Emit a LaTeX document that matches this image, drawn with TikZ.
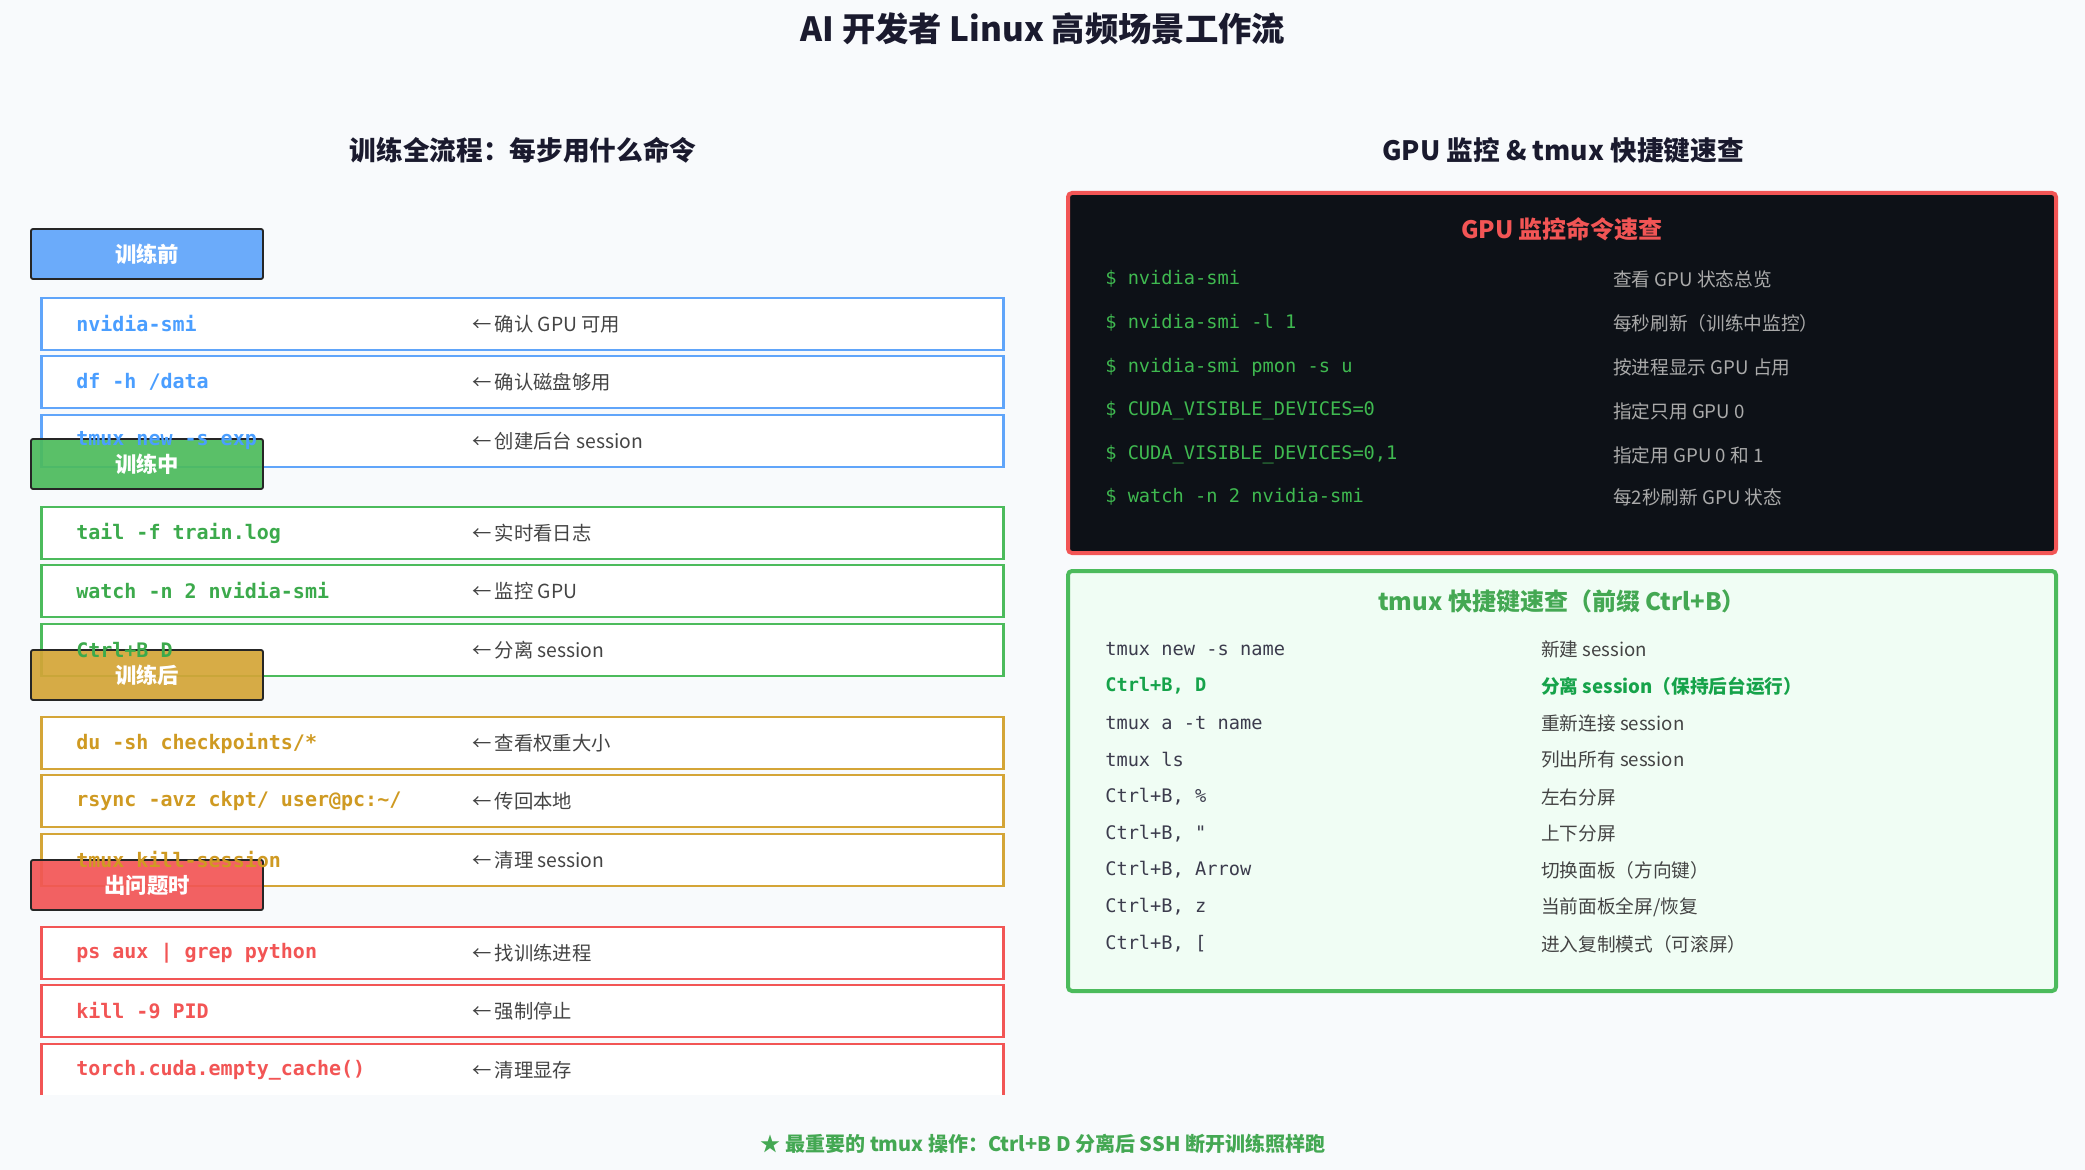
\documentclass[tikz,border=0pt]{standalone}
\usepackage{fontspec}
\setmainfont{Noto Sans CJK SC}
\newfontfamily\cjk{Noto Sans CJK SC}
\newfontfamily\monof{DejaVu Sans Mono}
\definecolor{bg}{HTML}{F8FAFC}
\definecolor{cblue}{HTML}{60A5FA}
\definecolor{tblue}{HTML}{4A9EFF}
\definecolor{cgreen}{HTML}{4CBB5C}
\definecolor{tgreen}{HTML}{3CAA4C}
\definecolor{corange}{HTML}{D4A537}
\definecolor{tor}{HTML}{CF9A22}
\definecolor{cred}{HTML}{F25555}
\definecolor{dark}{HTML}{0D1117}
\definecolor{lgreen}{HTML}{F0FDF4}
\definecolor{ttl}{HTML}{1A1A2E}
\definecolor{txt}{HTML}{444444}
\definecolor{gdesc}{HTML}{AAAAAA}
\definecolor{gcmd}{HTML}{3FB950}
\definecolor{teal}{HTML}{16A34A}
\begin{document}
\begin{tikzpicture}[x=0.75pt,y=-0.75pt,
  rowbox/.style={draw=#1,line width=2.2pt,fill=white,minimum width=722pt,minimum height=39pt,inner sep=0pt},
  stagebox/.style={draw=black!85,line width=1.4pt,fill=#1,fill opacity=0.92,text opacity=1,minimum width=174pt,minimum height=37.5pt,rounded corners=1.5pt,text=white,font=\cjk\bfseries\fontsize{16}{18}\selectfont},
  cmd/.style={anchor=west,text=#1,font=\monof\bfseries\fontsize{15}{17}\selectfont,inner sep=0pt},
  desc/.style={anchor=west,text=txt,font=\cjk\fontsize{14.5}{17}\selectfont,inner sep=0pt},
  gcmdst/.style={anchor=west,text=gcmd,font=\monof\fontsize{14}{16}\selectfont,inner sep=0pt},
  gdescst/.style={anchor=west,text=gdesc,font=\cjk\fontsize{14}{16}\selectfont,inner sep=0pt},
  tcmd/.style={anchor=west,text=ttl!85,font=\monof\fontsize{14}{16}\selectfont,inner sep=0pt},
  tdesc/.style={anchor=west,text=txt,font=\cjk\fontsize{14}{16}\selectfont,inner sep=0pt}]
\fill[bg] (0,0) rectangle (2085,1170);
\useasboundingbox (0,0) rectangle (2085,1170);
\node[font=\cjk\bfseries\fontsize{25}{28}\selectfont,text=ttl] (title) at (1043,29) {AI 开发者 Linux 高频场景工作流};
\node[font=\cjk\bfseries\fontsize{20}{24}\selectfont,text=ttl] (lt) at (523,150) {训练全流程：每步用什么命令};
\node[font=\cjk\bfseries\fontsize{20}{24}\selectfont,text=ttl] (rt) at (1563,150) {GPU 监控 \& tmux 快捷键速查};
% stages
\def\stage#1#2#3#4#5#6#7#8#9{%
  \node[stagebox=#2] (s#1) at (147,#3) {#4};}
% rows helper
\newcommand\rowA[6]{% name, color, textcolor, y, cmd, desc
  \node[rowbox=#2] (#1) at (522.5,#4) {};
  \node[cmd=#3] (#1c) at (76,#4) {#5};
  \node[desc] (#1d) at (472,#4) {←\,#6};}
\node[stagebox=cblue] (s1) at (147,254) {训练前};
\rowA{b1}{cblue}{tblue}{324}{nvidia-smi}{确认 GPU 可用}
\rowA{b2}{cblue}{tblue}{382}{df -h /data}{确认磁盘够用}
\node[rowbox=cblue] (b3) at (522.5,441) {};
\node[desc] (b3d) at (472,441) {←\,创建后台 session};
\node[stagebox=cgreen] (s2) at (147,464) {训练中};
\node[cmd=tblue] (b3c) at (76,441) {tmux new -s exp};
\rowA{g1}{cgreen}{tgreen}{533}{tail -f train.log}{实时看日志}
\rowA{g2}{cgreen}{tgreen}{591}{watch -n 2 nvidia-smi}{监控 GPU}
\node[rowbox=cgreen] (g3) at (522.5,650) {};
\node[desc] (g3d) at (472,650) {←\,分离 session};
\node[stagebox=corange] (s3) at (147,675) {训练后};
\node[cmd=tgreen] (g3c) at (76,650) {Ctrl+B D};
\rowA{o1}{corange}{tor}{743}{du -sh checkpoints/*}{查看权重大小}
\rowA{o2}{corange}{tor}{801}{rsync -avz ckpt/ user@pc:\string~/}{传回本地}
\node[rowbox=corange] (o3) at (522.5,860) {};
\node[desc] (o3d) at (472,860) {←\,清理 session};
\node[stagebox=cred] (s4) at (147,885) {出问题时};
\node[cmd=tor] (o3c) at (76,860) {tmux kill-session};
\rowA{r1}{cred}{cred}{953}{ps aux | grep python}{找训练进程}
\rowA{r2}{cred}{cred}{1011}{kill -9 PID}{强制停止}
\begin{scope}
\clip (0,0) rectangle (2085,1094);
\rowA{r3}{cred}{cred}{1070}{torch.cuda.empty\_cache()}{清理显存}
\end{scope}
% GPU panel
\node[draw=cred,line width=3pt,fill=dark,rounded corners=3pt,minimum width=741pt,minimum height=270pt,inner sep=0pt] (gpu) at (1562,373) {};
\node[font=\cjk\bfseries\fontsize{18}{22}\selectfont,text=cred] (gput) at (1562,229) {GPU 监控命令速查};
\foreach \y/\c/\d [count=\i] in {279/{\$ nvidia-smi}/{查看 GPU 状态总览},323/{\$ nvidia-smi -l 1}/{每秒刷新（训练中监控）},367/{\$ nvidia-smi pmon -s u}/{按进程显示 GPU 占用},411/{\$ CUDA\_VISIBLE\_DEVICES=0}/{指定只用 GPU 0},455/{\$ CUDA\_VISIBLE\_DEVICES=0,1}/{指定用 GPU 0 和 1},497/{\$ watch -n 2 nvidia-smi}/{每2秒刷新 GPU 状态}}{
  \node[gcmdst] (gc\i) at (1105,\y) {\c};
  \node[gdescst] (gd\i) at (1613,\y) {\d};}
% tmux panel
\node[draw=cgreen,line width=3pt,fill=lgreen,rounded corners=3pt,minimum width=741pt,minimum height=315pt,inner sep=0pt] (tmx) at (1562,781) {};
\node[font=\cjk\bfseries\fontsize{18}{22}\selectfont,text=cgreen!90!black] (tmxt) at (1562,601) {tmux 快捷键速查（前缀 Ctrl+B）};
\foreach \y/\c/\d [count=\i] in {649/{tmux new -s name}/{新建 session},723/{tmux a -t name}/{重新连接 session},759/{tmux ls}/{列出所有 session},797/{Ctrl+B, \%}/{左右分屏},834/{Ctrl+B, "}/{上下分屏},870/{Ctrl+B, Arrow}/{切换面板（方向键）},907/{Ctrl+B, z}/{当前面板全屏/恢复},944/{Ctrl+B, [}/{进入复制模式（可滚屏）}}{
  \node[tcmd] (tc\i) at (1105,\y) {\c};
  \node[tdesc] (td\i) at (1541,\y) {\d};}
\node[tcmd,text=teal,font=\monof\bfseries\fontsize{14}{16}\selectfont] (tcb) at (1105,686) {Ctrl+B, D};
\node[tdesc,text=teal,font=\cjk\bfseries\fontsize{14}{16}\selectfont] (tdb) at (1541,686) {分离 session（保持后台运行）};
\node[font=\cjk\bfseries\fontsize{15}{18}\selectfont,text=cgreen!90!black] (foot) at (1043,1144) {★ 最重要的 tmux 操作：Ctrl+B D 分离后 SSH 断开训练照样跑};
\end{tikzpicture}
\end{document}
